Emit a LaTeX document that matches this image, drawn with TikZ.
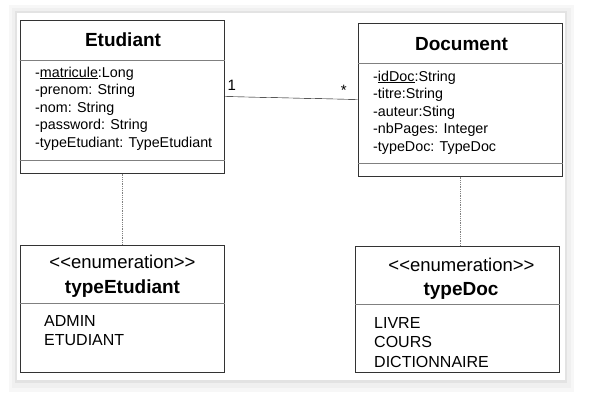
\documentclass[tikz,border=0pt]{standalone}
\usepackage{fontspec}
\setmainfont{Liberation Sans}
\usetikzlibrary{positioning}
\tikzstyle{cls} = [rectangle, draw=black!80, line width=1pt, fill=white, minimum width=204pt, inner sep=0pt]
\tikzstyle{title} = [anchor=base, inner sep=0pt, font=\fontsize{19}{22}\selectfont\bfseries]
\tikzstyle{stereo} = [anchor=base, inner sep=0pt, font=\fontsize{18.5}{22}\selectfont]
\tikzstyle{attr} = [anchor=north west, inner sep=0pt, align=left, font=\fontsize{14.3}{17.5}\selectfont]
\tikzstyle{lit} = [anchor=north west, inner sep=0pt, align=left, font=\fontsize{16}{19.5}\selectfont]
\tikzstyle{mult} = [inner sep=0pt, font=\fontsize{15}{18}\selectfont]
\tikzstyle{sep} = [draw=black!50, line width=0.8pt]
\tikzstyle{dep} = [densely dotted, draw=black!50, line width=0.8pt]

\begin{document}
\begin{tikzpicture}[x=1pt, y=-1pt]
    \useasboundingbox (0,0) rectangle (598,405);
    % page with its shadow
    \fill[black!3]  (9,5)   rectangle (574,392);
    \fill[black!6]  (12,8)  rectangle (571,388);
    \fill[black!11] (15,11) rectangle (567,383);
    \fill[white]    (17,13) rectangle (565,380);

    % classes
    \node (etudiant) [cls, minimum height=153pt] at (122,96.5) {};
    \node (document) [cls, minimum height=153pt] at (460,99.5) {};
    \node (typeetu)  [cls, minimum height=127pt] at (122,308.5) {};
    \node (typedoc)  [cls, minimum height=126pt] at (457,309) {};

    \draw [sep] ([yshift=-41pt]etudiant.north west) -- ([yshift=-41pt]etudiant.north east);
    \draw [sep] ([yshift=13pt]etudiant.south west)  -- ([yshift=13pt]etudiant.south east);
    \draw [sep] ([yshift=-41pt]document.north west) -- ([yshift=-41pt]document.north east);
    \draw [sep] ([yshift=13pt]document.south west)  -- ([yshift=13pt]document.south east);
    \draw [sep] ([yshift=-59pt]typeetu.north west)  -- ([yshift=-59pt]typeetu.north east);
    \draw [sep] ([yshift=-59pt]typedoc.north west)  -- ([yshift=-59pt]typedoc.north east);

    \node (etuName) [title] at (123,46) {Etudiant};
    \node (docName) [title] at (461.5,50) {Document};

    \node (etuAttr) [attr] at (35,66.5)
      {-\underline{matricule}:Long\\-prenom: String\\-nom: String\\
        -password: String\\-typeEtudiant: TypeEtudiant};
    \node (docAttr) [attr] at (373,70.5)
      {-\underline{idDoc}:String\\-titre:String\\-auteur:Sting\\
        -nbPages: Integer\\-typeDoc: TypeDoc};

    \node (etuStereo) [stereo] at (122.5,268.5) {<{}<enumeration>{}>};
    \node (etuEnum)   [title]  at (122.5,293)   {typeEtudiant};
    \node (docStereo) [stereo] at (461.5,271.5) {<{}<enumeration>{}>};
    \node (docEnum)   [title]  at (461,295)     {typeDoc};

    \node (etuLit) [lit] at (44,315)  {ADMIN\\ETUDIANT};
    \node (docLit) [lit] at (374,317) {LIVRE\\COURS\\DICTIONNAIRE};

    % association and dependencies
    \draw (etudiant.east) -- (document.west);
    \node (one)  [mult, above right=5.5pt and 3pt of etudiant.east] {1};
    \node (many) [mult, above left=3.5pt and 10.5pt of document.west] {*};

    \draw [dep] (etudiant.south) -- (typeetu.north);
    \draw [dep] (document.south) -- (document.south |- typedoc.north);
\end{tikzpicture}
\end{document}
